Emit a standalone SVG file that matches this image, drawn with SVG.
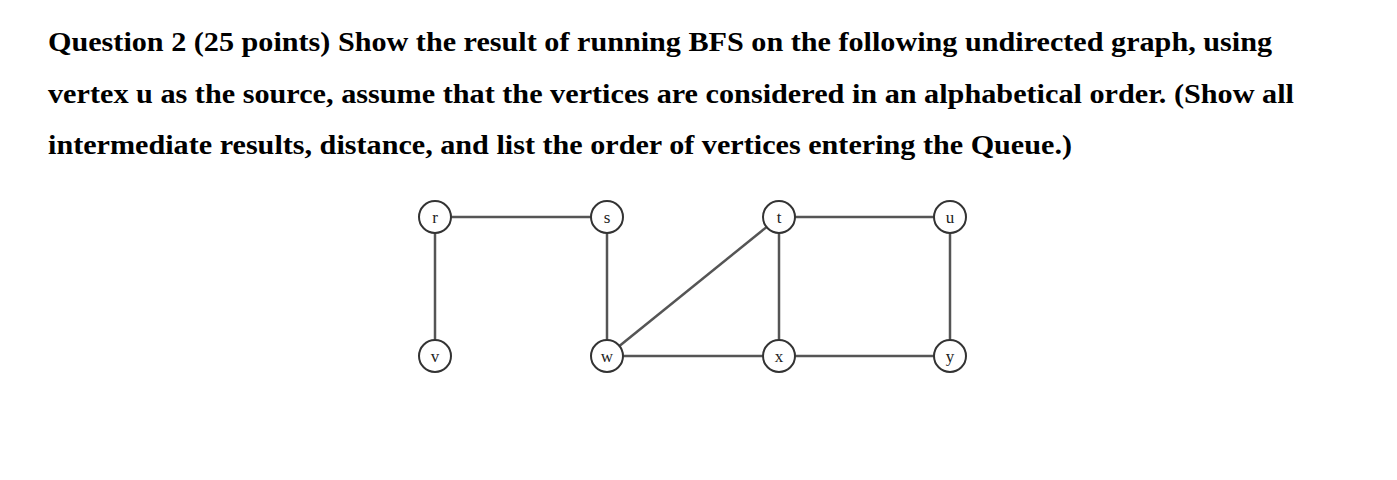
<svg xmlns="http://www.w3.org/2000/svg" width="1397" height="480" viewBox="0 0 1397 480">
<style>
.q{font-family:"Liberation Serif",serif;font-weight:bold;font-size:27px;fill:#000}
.n circle{fill:#fff;stroke:#333;stroke-width:2}
.n text{font-family:"Liberation Serif",serif;font-size:17px;fill:#222;text-anchor:middle}
#edges line{stroke:#555;stroke-width:2.5}
</style>
<rect width="1397" height="480" fill="#fff"/>
<text class="q" x="48" y="51" textLength="1224" lengthAdjust="spacingAndGlyphs">Question 2 (25 points) Show the result of running BFS on the following undirected graph, using</text>
<text class="q" x="48" y="103" textLength="1246" lengthAdjust="spacingAndGlyphs">vertex u as the source, assume that the vertices are considered in an alphabetical order. (Show all</text>
<text class="q" x="48" y="154" textLength="1024" lengthAdjust="spacingAndGlyphs">intermediate results, distance, and list the order of vertices entering the Queue.)</text>
<g id="edges">
<line x1="435" y1="217" x2="607" y2="217"/>
<line x1="779" y1="217" x2="950" y2="217"/>
<line x1="435" y1="217" x2="435" y2="356"/>
<line x1="607" y1="217" x2="607" y2="356"/>
<line x1="779" y1="217" x2="779" y2="356"/>
<line x1="950" y1="217" x2="950" y2="356"/>
<line x1="607" y1="356" x2="779" y2="217"/>
<line x1="607" y1="356" x2="779" y2="356"/>
<line x1="779" y1="356" x2="950" y2="356"/>
</g>
<g id="r" class="n"><circle cx="435" cy="217" r="16"/><text x="435" y="223">r</text></g>
<g id="s" class="n"><circle cx="607" cy="217" r="16"/><text x="607" y="223">s</text></g>
<g id="t" class="n"><circle cx="779" cy="217" r="16"/><text x="779" y="223">t</text></g>
<g id="u" class="n"><circle cx="950" cy="217" r="16"/><text x="950" y="223">u</text></g>
<g id="v" class="n"><circle cx="435" cy="356" r="16"/><text x="435" y="362">v</text></g>
<g id="w" class="n"><circle cx="607" cy="356" r="16"/><text x="607" y="362">w</text></g>
<g id="x" class="n"><circle cx="779" cy="356" r="16"/><text x="779" y="362">x</text></g>
<g id="y" class="n"><circle cx="950" cy="356" r="16"/><text x="950" y="362">y</text></g>
</svg>
